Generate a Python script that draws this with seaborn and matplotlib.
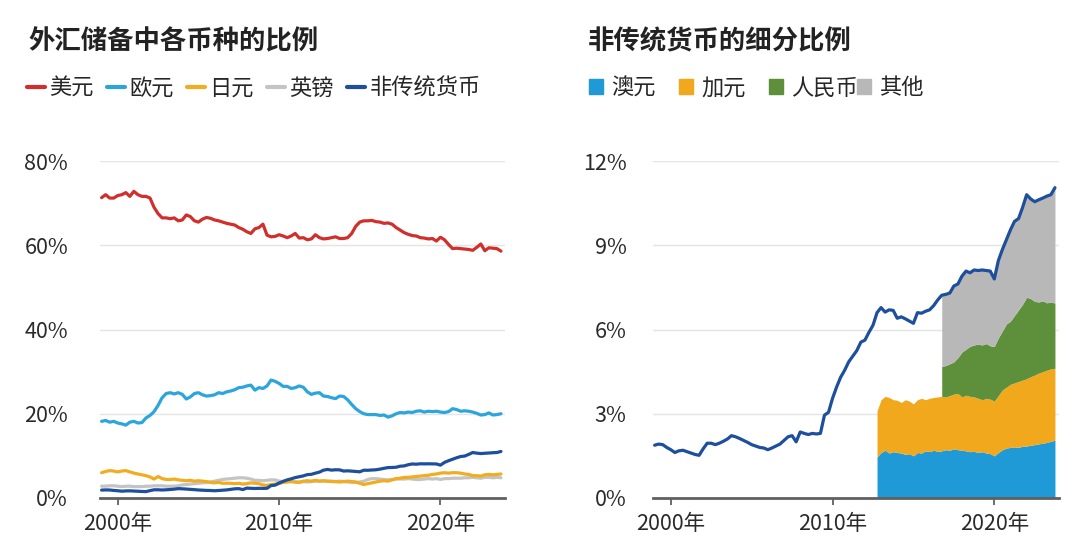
import numpy as np
import pandas as pd
import matplotlib
matplotlib.use("Agg")
import matplotlib.pyplot as plt
from matplotlib.lines import Line2D
from matplotlib.patches import Patch
import seaborn as sns

# quarterly shares of FX reserves, 1999Q1 - 2023Q4 (in %)
quarters = pd.period_range("1999Q1", "2023Q4", freq="Q")

usd = [71.3, 72.0, 71.2, 71.2,  71.8, 72.0, 72.5, 71.6,  72.8, 72.0, 71.6, 71.6,
       71.2, 69.0, 67.5, 66.5,  66.5, 66.3, 66.5, 65.8,  66.0, 67.2, 66.8, 65.8,
       65.5, 66.2, 66.6, 66.4,  66.0, 65.8, 65.5, 65.2,  65.0, 64.8, 64.2, 63.8,
       63.2, 62.8, 63.9, 64.2,  65.0, 62.4, 62.0, 62.1,  62.5, 62.2, 61.8, 62.2,
       62.8, 61.7, 61.8, 61.3,  61.5, 62.5, 61.8, 61.5,  61.6, 61.8, 62.0, 61.6,
       61.6, 61.8, 62.8, 64.5,  65.5, 65.8, 65.8, 65.9,  65.6, 65.5, 65.2, 65.3,
       65.0, 64.2, 63.6, 63.0,  62.6, 62.3, 62.2, 61.8,  61.7, 61.5, 61.6, 61.0,
       61.9, 61.3, 60.2, 59.2,  59.3, 59.2, 59.1, 59.0,  58.8, 59.5, 60.3, 58.7,
       59.4, 59.3, 59.2, 58.6]
eur = [18.2, 18.4, 18.0, 18.2,  17.8, 17.6, 17.3, 18.0,  18.2, 17.8, 17.9, 19.0,
       19.6, 20.5, 22.0, 23.8,  24.8, 25.0, 24.7, 25.0,  24.6, 23.5, 24.0, 24.8,
       25.0, 24.5, 24.2, 24.3,  24.5, 25.0, 24.8, 25.2,  25.4, 25.7, 26.2, 26.3,
       26.6, 26.8, 25.6, 26.2,  26.0, 26.6, 28.0, 27.7,  27.2, 26.5, 26.5, 26.0,
       26.2, 26.6, 26.3, 25.2,  24.6, 24.9, 25.0, 24.2,  24.1, 23.8, 23.6, 24.2,
       24.1, 23.3, 22.2, 21.2,  20.5, 20.0, 19.8, 19.8,  19.8, 19.6, 19.7, 19.2,
       19.5, 20.0, 20.3, 20.2,  20.4, 20.3, 20.6, 20.7,  20.4, 20.6, 20.5, 20.6,
       20.4, 20.3, 20.5, 21.2,  21.0, 20.6, 20.7, 20.6,  20.4, 20.1, 19.7, 19.8,
       20.2, 19.7, 19.8, 20.0]
jpy = [6.0, 6.3, 6.5, 6.4,  6.2, 6.4, 6.5, 6.2,  5.9, 5.7, 5.5, 5.3,
       5.0, 4.5, 5.1, 4.6,  4.4, 4.4, 4.5, 4.3,  4.2, 4.1, 4.2, 4.0,
       4.1, 4.0, 3.9, 3.7,  3.6, 3.7, 3.5, 3.5,  3.5, 3.4, 3.5, 3.3,
       3.4, 3.6, 3.5, 3.4,  3.1, 3.0, 3.2, 3.3,  3.4, 3.7, 3.8, 3.9,
       3.8, 3.7, 4.0, 4.1,  4.0, 4.2, 4.0, 4.1,  4.0, 3.9, 3.9, 3.8,
       3.9, 4.0, 3.9, 3.8,  3.5, 3.2, 3.4, 3.6,  3.8, 4.0, 4.1, 4.0,
       4.3, 4.6, 4.7, 4.9,  4.9, 5.0, 5.1, 5.2,  5.3, 5.4, 5.6, 5.7,
       5.9, 6.0, 5.9, 6.0,  6.0, 5.9, 5.7, 5.6,  5.3, 5.3, 5.2, 5.5,
       5.6, 5.5, 5.6, 5.7]
gbp = [2.8, 2.8, 2.9, 2.9,  2.8, 2.7, 2.8, 2.8,  2.7, 2.7, 2.7, 2.8,
       2.8, 2.9, 2.9, 2.9,  2.8, 2.8, 2.8, 2.9,  3.1, 3.2, 3.3, 3.4,
       3.5, 3.6, 3.7, 3.8,  4.0, 4.2, 4.4, 4.5,  4.6, 4.7, 4.8, 4.8,
       4.7, 4.5, 4.2, 4.2,  4.1, 4.2, 4.3, 4.3,  4.0, 3.9, 3.9, 3.9,
       3.8, 3.8, 3.9, 3.8,  3.9, 4.0, 4.0, 4.0,  4.0, 4.0, 3.9, 4.0,
       3.9, 3.8, 3.7, 3.7,  3.8, 4.0, 4.4, 4.6,  4.6, 4.5, 4.4, 4.3,
       4.4, 4.5, 4.5, 4.5,  4.6, 4.5, 4.4, 4.4,  4.5, 4.6, 4.5, 4.6,
       4.4, 4.6, 4.6, 4.7,  4.7, 4.7, 4.8, 4.8,  4.9, 4.8, 4.7, 4.9,
       4.9, 4.8, 4.9, 4.8]
nontrad = [1.88, 1.92, 1.90, 1.80,  1.72, 1.62, 1.68, 1.70,  1.65, 1.60, 1.55, 1.52,
           1.75, 1.95, 1.95, 1.90,  1.95, 2.02, 2.10, 2.22,  2.18, 2.12, 2.05, 1.98,
           1.90, 1.85, 1.80, 1.78,  1.72, 1.78, 1.85, 1.92,  2.05, 2.18, 2.22, 2.00,
           2.35, 2.30, 2.26, 2.30,  2.28, 2.30, 2.95, 3.05,  3.55, 3.95, 4.30, 4.55,
           4.85, 5.05, 5.25, 5.55,  5.62, 5.90, 6.15, 6.60,  6.78, 6.62, 6.70, 6.68,
           6.40, 6.45, 6.38, 6.30,  6.22, 6.60, 6.58, 6.65,  6.70, 6.85, 7.05, 7.22,
           7.25, 7.30, 7.55, 7.62,  7.90, 8.08, 8.02, 8.12,  8.10, 8.12, 8.10, 8.08,
           7.80, 8.45, 8.85, 9.20,  9.55, 9.85, 9.95, 10.35,  10.80, 10.65, 10.55, 10.62,
           10.68, 10.75, 10.80, 11.05]

# breakdown of non-traditional currencies
aud_quarters = pd.period_range("2012Q4", "2023Q4", freq="Q")
aud = [1.46,  1.62, 1.70, 1.60, 1.65,  1.62, 1.60, 1.55, 1.58,  1.50, 1.62, 1.60, 1.68,
       1.65, 1.70, 1.66, 1.68,  1.72, 1.70, 1.75, 1.72,  1.70, 1.68, 1.65, 1.66,
       1.62, 1.65, 1.60, 1.58,  1.50, 1.62, 1.72, 1.78,  1.80, 1.82, 1.80, 1.85,
       1.85, 1.88, 1.90, 1.93,  1.95, 1.98, 2.02, 2.06]
cad = [1.64,  1.88, 1.92, 1.98, 1.85,  1.86, 1.80, 1.95, 1.87,  1.85, 1.88, 1.95, 1.82,
       1.90, 1.88, 1.94, 1.94,  1.88, 1.95, 1.95, 2.00,  1.90, 1.98, 1.97, 1.94,
       1.93, 1.85, 1.95, 1.94,  1.95, 2.03, 2.13, 2.17,  2.25, 2.28, 2.35, 2.35,
       2.40, 2.44, 2.48, 2.52,  2.55, 2.57, 2.58, 2.56]
cny_quarters = pd.period_range("2016Q4", "2023Q4", freq="Q")
cny = [1.06,  1.12, 1.13, 1.15, 1.28,  1.60, 1.64, 1.78, 1.85,  1.93, 1.95, 1.95, 1.90,
       1.95, 2.05, 2.10, 2.25,  2.25, 2.40, 2.55, 2.70,  2.90, 2.78, 2.62, 2.53,
       2.52, 2.40, 2.38, 2.32]
other = [2.54,  2.53, 2.52, 2.70, 2.62,  2.70, 2.78, 2.62, 2.67,  2.62, 2.67, 2.60, 2.66,
         2.40, 2.75, 2.90, 3.00,  3.25, 3.35, 3.25, 3.45,  3.65, 3.55, 3.55, 3.64,
         3.66, 3.80, 3.82, 4.11]

left_names = ["美元", "欧元", "日元", "英镑", "非传统货币"]
left_colors = ["#d12f2c", "#2ba5dc", "#f1ac1f", "#c4c4c4", "#1d4f9c"]
right_names = ["澳元", "加元", "人民币", "其他"]
right_colors = ["#1f9ad6", "#f2a81d", "#5e8f3a", "#b8b8b8"]


def qx(periods):
    return periods.year + (periods.quarter - 1) / 4


t = qx(quarters)
df = pd.DataFrame({"t": np.tile(t, 5),
                   "share": usd + eur + jpy + gbp + nontrad,
                   "currency": np.repeat(left_names, len(t))})

sns.set_theme(style="white")
plt.rcParams["font.family"] = ["Noto Sans CJK SC", "DejaVu Sans"]

fig = plt.figure(figsize=(10.8, 5.6), dpi=100)
ax1 = fig.add_axes([100 / 1080, 62 / 560, 405 / 1080, 337 / 560])
ax2 = fig.add_axes([653 / 1080, 62 / 560, 406 / 1080, 337 / 560])

# left: lines (gray under the others)
order = ["英镑", "日元", "欧元", "美元", "非传统货币"]
pal = dict(zip(left_names, left_colors))
for name in order:
    sns.lineplot(data=df[df.currency == name], x="t", y="share", color=pal[name],
                 lw=2.3, ax=ax1, legend=False)

# right: stacked area + total line
t2 = qx(aud_quarters)
pad = [np.nan] * (len(aud) - len(cny))
ax2.stackplot(t2, aud, cad, pad + cny, pad + other, colors=right_colors,
              linewidth=0, zorder=1)
sns.lineplot(x=t, y=nontrad, color=left_colors[4], lw=2.3, ax=ax2, zorder=3)

for ax, top, step, ypad in [(ax1, 80, 20, 17), (ax2, 12, 3, 13)]:
    ax.set_xlim(1998.9, 2024.0)
    ax.set_ylim(0, top)
    ticks = np.arange(0, top + 1, step)
    ax.set_yticks(ticks)
    ax.set_yticklabels([f"{v}%" for v in ticks])
    ax.set_xticks([2000, 2010, 2020])
    ax.set_xticklabels(["2000年", "2010年", "2020年"])
    ax.set_xlabel("")
    ax.set_ylabel("")
    ax.grid(axis="y", color="#e4e4e4", lw=1)
    ax.set_axisbelow(True)
    for s in ["left", "right", "top"]:
        ax.spines[s].set_visible(False)
    ax.spines["bottom"].set_color("#606060")
    ax.spines["bottom"].set_linewidth(2)
    ax.spines["bottom"].set_zorder(5)
    ax.tick_params(axis="x", bottom=True, direction="out", length=5, width=1.3,
                   color="#606060", labelsize=15.5, labelcolor="#2a2a2a", pad=6)
    ax.tick_params(axis="y", left=False, labelsize=15.5, labelcolor="#2a2a2a", pad=ypad)
    for lab in ax.get_xticklabels() + ax.get_yticklabels():
        lab.set_fontweight("medium")

fig.text(28 / 1080, 1 - 42 / 560, "外汇储备中各币种的比例", fontsize=19,
         fontweight="bold", color="#222222", va="center", ha="left")
fig.text(588 / 1080, 1 - 42 / 560, "非传统货币的细分比例", fontsize=19,
         fontweight="bold", color="#222222", va="center", ha="left")

h1 = [Line2D([], [], color=c, lw=3) for c in left_colors]
fig.legend(h1, left_names, loc="center left", bbox_to_anchor=(27 / 1080, 1 - 88 / 560),
           ncol=5, frameon=False, fontsize=16, handlelength=0.8, handletextpad=0.2,
           columnspacing=0.6, borderpad=0, borderaxespad=0)

# right legend: fixed-width slots as in the reference
for name, col, xpos in zip(right_names, right_colors, [589, 679, 769, 857]):
    fig.legend([Patch(color=col)], [name], loc="center left",
               bbox_to_anchor=(xpos / 1080, 1 - 88 / 560), frameon=False, fontsize=16,
               handlelength=0.65, handleheight=0.65, handletextpad=0.35,
               borderpad=0, borderaxespad=0)

fig.savefig("out.png", dpi=100, facecolor="white")
